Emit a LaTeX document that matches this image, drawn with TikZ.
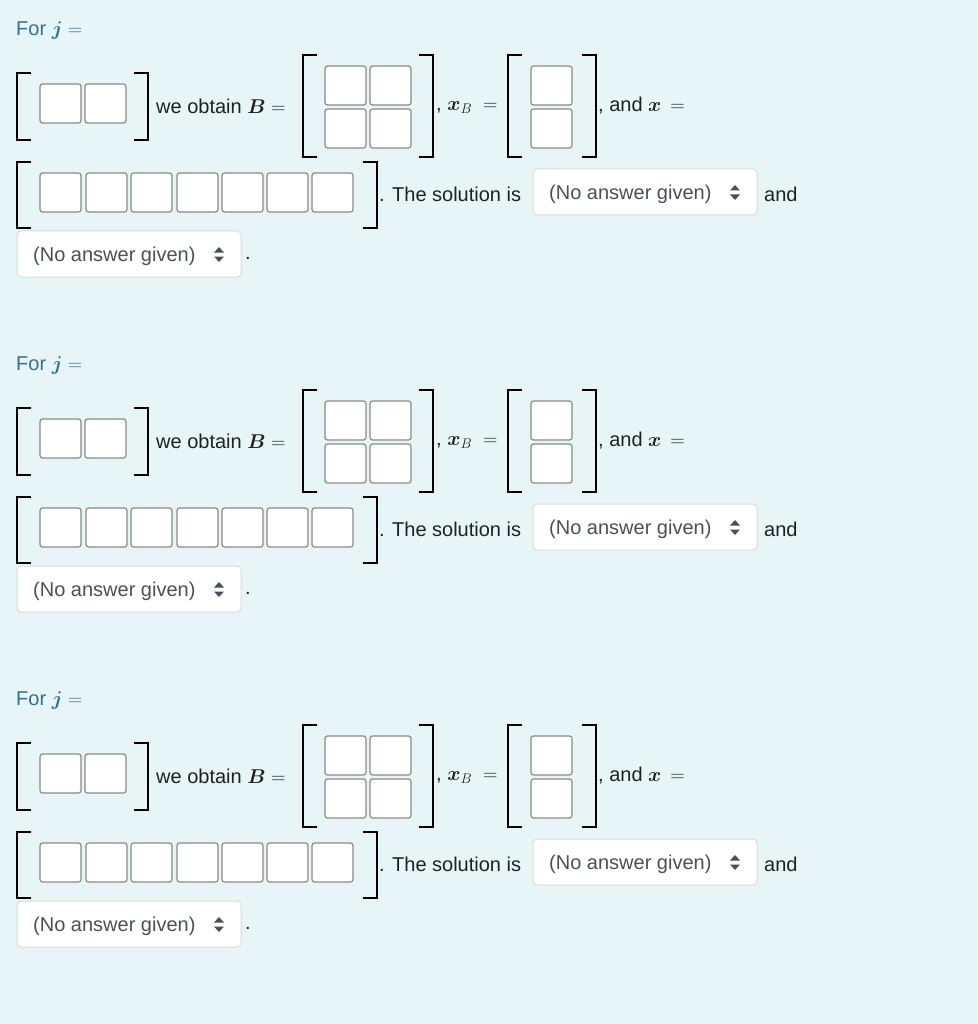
\RequirePackage{fix-cm}
\documentclass[tikz,border=0pt]{standalone}
\usepackage{amsmath,bm}
\usepackage{fontspec}
\setmainfont{Liberation Sans}
\definecolor{bgc}{HTML}{E8F5F7}
\definecolor{forc}{HTML}{2F7198}
\definecolor{txt}{HTML}{1D2125}
\definecolor{boxc}{HTML}{8A8A8A}
\definecolor{ddb}{HTML}{D6DCE0}
\definecolor{ddt}{HTML}{495057}
\tikzset{
  cell/.style={draw=boxc,fill=white,line width=1.2pt,rounded corners=2.5pt},
  brk/.style={line width=2.6pt,line cap=butt},
  txtn/.style={anchor=west,inner sep=0pt,text=txt,font=\fontsize{20}{23}\selectfont},
  dd/.style={draw=ddb,fill=white,line width=1pt,rounded corners=4pt},
  ddtext/.style={anchor=west,inner sep=0pt,text=ddt,font=\fontsize{20}{23}\selectfont}
}
\newcommand{\lbr}[3]{\draw[brk] (#1+14,#2) -- (#1,#2) -- (#1,#3) -- (#1+14,#3);}
\newcommand{\rbr}[3]{\draw[brk] (#1-14,#2) -- (#1,#2) -- (#1,#3) -- (#1-14,#3);}
\newcommand{\cellat}[2]{\draw[cell] (#1,#2) rectangle (#1+41,#2+39);}
\newcommand{\dropdown}[2]{%
  \draw[dd] (#1,#2) rectangle (#1+224,#2+46);
  \node[ddtext] at (#1+16,#2+25) {(No answer given)};
  \fill[ddt] (#1+197,#2+21.5) -- (#1+207,#2+21.5) -- (#1+202,#2+16) -- cycle;
  \fill[ddt] (#1+197,#2+25.5) -- (#1+207,#2+25.5) -- (#1+202,#2+31) -- cycle;}
\newcommand{\qsection}[1]{%
\begin{scope}[shift={(0,#1)}]
  \node[txtn,text=forc] at (16,31) {For $\bm{j} =$};
  \lbr{17}{73}{140}
  \cellat{40}{84}\cellat{85}{84}
  \rbr{148}{73}{140}
  \node[txtn] at (156,106) {we obtain $\bm{B} =$};
  \lbr{303}{55}{157}
  \cellat{325}{66}\cellat{370}{66}\cellat{325}{109}\cellat{370}{109}
  \rbr{433}{55}{157}
  \node[txtn] at (436,108) {, $\bm{x}_B\ =$};
  \lbr{508}{55}{157}
  \cellat{531}{66}\cellat{531}{109}
  \rbr{596}{55}{157}
  \node[txtn] at (598,106) {, and $\bm{x}\,=$};
  \lbr{17}{162}{228}
  \foreach \cx in {40,86,131,177,222,267,312} {\cellat{\cx}{173}}
  \rbr{377}{162}{228}
  \node[txtn] at (379,194) {. The solution is};
  \dropdown{533}{169}
  \node[txtn] at (764,194) {and};
  \dropdown{17}{231}
  \node[txtn] at (245,258) {.};
\end{scope}}
\begin{document}
\begin{tikzpicture}[x=1pt,y=-1pt]
\fill[bgc] (0,0) rectangle (977,1024);
\useasboundingbox (0,0) rectangle (977,1024);
\qsection{0}
\qsection{335}
\qsection{670}
\end{tikzpicture}
\end{document}
